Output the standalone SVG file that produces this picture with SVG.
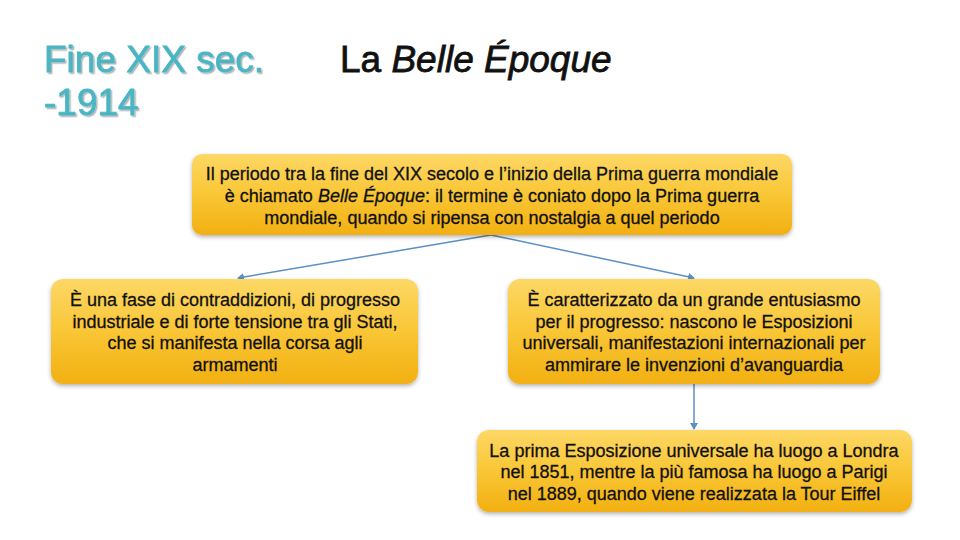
<svg xmlns="http://www.w3.org/2000/svg" width="960" height="540" viewBox="0 0 960 540">
<defs>
<linearGradient id="g" x1="0" y1="0" x2="0" y2="1">
<stop offset="0" stop-color="#fdd866"/>
<stop offset="0.5" stop-color="#f9c635"/>
<stop offset="1" stop-color="#f2b012"/>
</linearGradient>
<filter id="sh" x="-10%" y="-10%" width="120%" height="130%">
<feDropShadow dx="0" dy="2" stdDeviation="2" flood-color="#000" flood-opacity="0.3"/>
</filter>
<filter id="tsh" x="-5%" y="-5%" width="110%" height="120%">
<feDropShadow dx="1.5" dy="1.5" stdDeviation="0.6" flood-color="#000" flood-opacity="0.3"/>
</filter>
<marker id="ah" markerWidth="8" markerHeight="8" refX="6" refY="4" orient="auto" markerUnits="userSpaceOnUse">
<path d="M0,0 L7,4 L0,8 z" fill="#5b8fc7"/>
</marker>
<style>
.box{fill:url(#g);filter:url(#sh)}
.t{font-family:"Liberation Sans",Arial,sans-serif;font-size:18px;fill:#111;stroke:#111;stroke-width:0.3;text-anchor:middle}
.h{font-family:"Liberation Sans",Arial,sans-serif;font-size:37px;stroke-width:0.8}
.c{stroke:#5b8fc7;stroke-width:1.5;fill:none;marker-end:url(#ah)}
</style>
</defs>
<rect width="960" height="540" fill="#fff"/>
<g id="title-left" filter="url(#tsh)">
<text class="h" x="44" y="72" fill="#4bb5c3" stroke="#4bb5c3">Fine XIX sec.</text>
<text class="h" x="44" y="115" fill="#4bb5c3" stroke="#4bb5c3">-1914</text>
</g>
<g id="title-right">
<text class="h" x="340" y="72" fill="#111" stroke="#111">La <tspan font-style="italic">Belle Époque</tspan></text>
</g>
<g id="connectors">
<path class="c" d="M491,235 L238,278"/>
<path class="c" d="M491,235 L694,278"/>
<path class="c" d="M694,384 L694,429"/>
</g>
<g id="top">
<rect class="box" x="192" y="154" width="600" height="81" rx="10"/>
<text class="t" x="492" y="180">Il periodo tra la fine del XIX secolo e l’inizio della Prima guerra mondiale</text>
<text class="t" x="492" y="202">è chiamato <tspan font-style="italic">Belle Époque</tspan>: il termine è coniato dopo la Prima guerra</text>
<text class="t" x="492" y="224">mondiale, quando si ripensa con nostalgia a quel periodo</text>
</g>
<g id="left">
<rect class="box" x="51" y="279" width="367" height="105" rx="12"/>
<text class="t" x="235" y="306">È una fase di contraddizioni, di progresso</text>
<text class="t" x="235" y="328">industriale e di forte tensione tra gli Stati,</text>
<text class="t" x="235" y="349">che si manifesta nella corsa agli</text>
<text class="t" x="235" y="371">armamenti</text>
</g>
<g id="right">
<rect class="box" x="508" y="279" width="372" height="105" rx="12"/>
<text class="t" x="694" y="306">È caratterizzato da un grande entusiasmo</text>
<text class="t" x="694" y="328">per il progresso: nascono le Esposizioni</text>
<text class="t" x="694" y="349">universali, manifestazioni internazionali per</text>
<text class="t" x="694" y="371">ammirare le invenzioni d’avanguardia</text>
</g>
<g id="bottom">
<rect class="box" x="477" y="430" width="435" height="82" rx="12"/>
<text class="t" x="694" y="457">La prima Esposizione universale ha luogo a Londra</text>
<text class="t" x="694" y="478">nel 1851, mentre la più famosa ha luogo a Parigi</text>
<text class="t" x="694" y="500">nel 1889, quando viene realizzata la Tour Eiffel</text>
</g>
</svg>
